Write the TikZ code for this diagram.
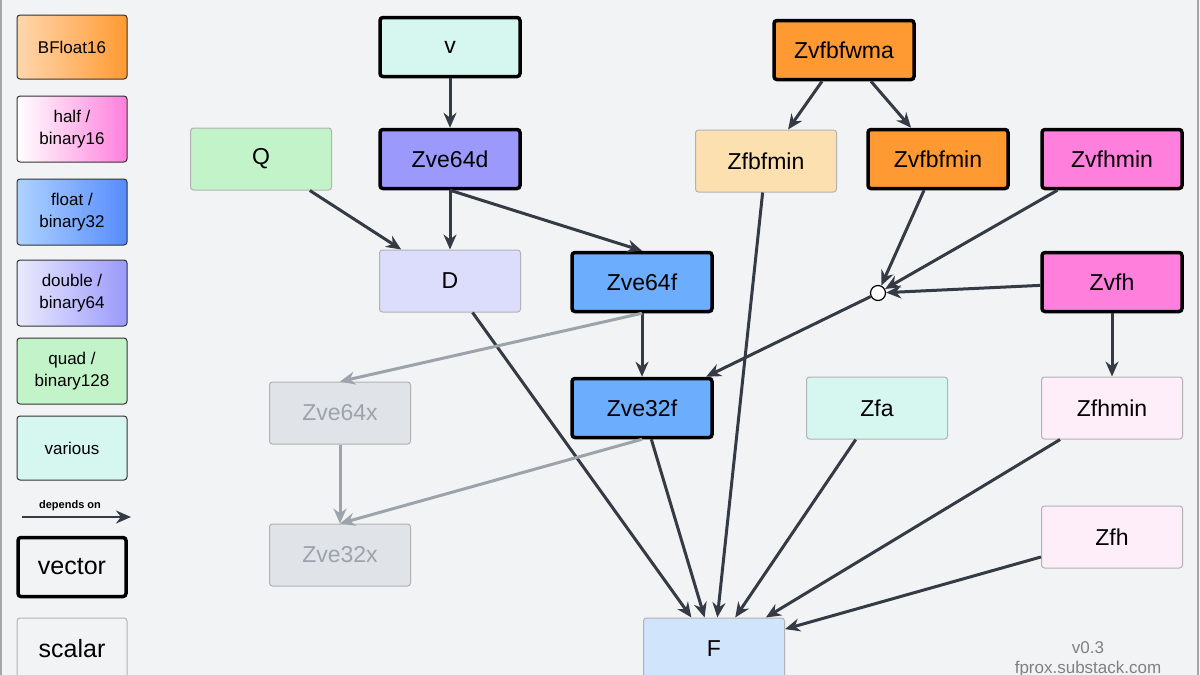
\documentclass[tikz,border=0pt]{standalone}
\usepackage{fontspec}
\setmainfont{Liberation Sans}
\usetikzlibrary{arrows.meta}
\definecolor{bg}{HTML}{F2F3F5}
\definecolor{ink}{HTML}{353B45}
\definecolor{cVar}{HTML}{D5F7F0}
\definecolor{cOr}{HTML}{FF9A33}
\definecolor{cQ}{HTML}{C3F3C8}
\definecolor{cPu}{HTML}{9B99FC}
\definecolor{cBfl}{HTML}{FDE0B0}
\definecolor{cPk}{HTML}{FF7FDC}
\definecolor{cD}{HTML}{DCDCFC}
\definecolor{cBl}{HTML}{6CAEFD}
\definecolor{cGr}{HTML}{E0E3E7}
\definecolor{cHl}{HTML}{FDEEFA}
\definecolor{cF}{HTML}{D0E4FC}
\definecolor{grayl}{HTML}{9CA3AB}
\begin{document}
\begin{tikzpicture}[x=1pt,y=-1pt,
  box/.style={draw=gray!60,line width=1pt,rounded corners=3pt,minimum width=141pt,minimum height=62pt,inner sep=0pt,font=\fontsize{23}{25}\selectfont,text=black},
  vec/.style={box,draw=black,line width=3.5pt,minimum width=140pt,minimum height=59pt},
  leg/.style={draw=black!80,line width=1pt,rounded corners=3pt,minimum width=110pt,minimum height=64pt,inner sep=0pt,align=center,font=\fontsize{17}{22}\selectfont},
  dep/.style={draw=ink,line width=3pt,-{Stealth[length=15pt,width=13pt]}},
  gdep/.style={dep,draw=grayl}]
\useasboundingbox (0,0) rectangle (1200,675);
\fill[bg] (0,0) rectangle (1200,675);
\draw[gray!70,line width=1.5pt] (1,-5) -- (1,675) (1198,-5) -- (1198,675);
% legend
\node[leg,left color=cOr!40,right color=cOr] (lbf) at (72,47) {BFloat16};
\node[leg,left color=white,right color=cPk,minimum height=66pt] (lh) at (72,129) {half /\\binary16};
\node[leg,left color=cBl!55,right color=cBl!80!blue,minimum height=66pt] (lf) at (72,212) {float /\\binary32};
\node[leg,left color=cD!60,right color=cPu,minimum height=66pt] (ld) at (72,293) {double /\\binary64};
\node[leg,fill=cQ,minimum height=66pt] (lq) at (72,371) {quad /\\binary128};
\node[leg,fill=cVar] (lv) at (72,448) {various};
\coordinate (la) at (22,517); \coordinate (lb) at (131,517);
\draw[dep,line width=2.5pt] (la) -- (lb);
\node[font=\bfseries\fontsize{11}{12}\selectfont] (ldep) at (70,506) {depends on};
\node[vec,fill=bg,minimum width=108pt,font=\fontsize{25}{27}\selectfont] (lvec) at (72,567) {vector};
\node[box,fill=bg,minimum width=110pt,font=\fontsize{25}{27}\selectfont] (lsca) at (72,649) {scalar};
% nodes
\node[vec,fill=cVar] (v) at (450,47) {v};
\node[vec,fill=cOr] (wma) at (844,50) {Zvfbfwma};
\node[box,fill=cQ] (Q) at (261,159) {Q};
\node[vec,fill=cPu] (z64d) at (450,159) {Zve64d};
\node[box,fill=cBfl] (zfbf) at (766,161) {Zfbfmin};
\node[vec,fill=cOr] (zvbf) at (938,159) {Zvfbfmin};
\node[vec,fill=cPk] (zvhm) at (1112,159) {Zvfhmin};
\node[box,fill=cD] (D) at (450,281) {D};
\node[vec,fill=cBl] (z64f) at (642,282) {Zve64f};
\node[vec,fill=cPk] (zvfh) at (1112,282) {Zvfh};
\node[circle,draw=black,fill=white,line width=1.2pt,minimum size=15pt,inner sep=0pt] (c) at (878,293) {};
\node[box,fill=cGr,text=grayl] (z64x) at (340,413) {Zve64x};
\node[vec,fill=cBl] (z32f) at (642,408) {Zve32f};
\node[box,fill=cVar] (zfa) at (877,408) {Zfa};
\node[box,fill=cHl] (zfhm) at (1112,408) {Zfhmin};
\node[box,fill=cGr,text=grayl] (z32x) at (340,555) {Zve32x};
\node[box,fill=cHl] (zfh) at (1112,537) {Zfh};
\node[box,fill=cF] (F) at (714,649) {F};
\node[text=gray,font=\fontsize{17}{20}\selectfont,align=center] (ver) at (1088,659) {v0.3\\fprox.substack.com};
% edges
\draw[dep] (v) -- (z64d);
\draw[dep] (wma) -- (zfbf);
\draw[dep] (wma) -- (zvbf);
\draw[dep] (Q) -- (D);
\draw[dep] (z64d) -- (D);
\draw[dep] (z64d.south) -- (z64f.north);
\draw[dep] (zfbf) -- (F);
\draw[dep] (zvbf) -- (c);
\draw[dep] (zvhm) -- (c);
\draw[dep] (zvfh) -- (c);
\draw[dep] (c) -- (z32f);
\draw[dep] (D) -- (F);
\draw[dep] (z64f) -- (z32f);
\draw[gdep] (z64f.south) -- (z64x.north);
\draw[gdep] (z64x) -- (z32x);
\draw[gdep] (z32f.south) -- (z32x.north);
\draw[dep] (z32f) -- (F);
\draw[dep] (zfa) -- (F);
\draw[dep] (zfhm) -- (F);
\draw[dep] (zfh) -- (F);
\draw[dep] (zvfh) -- (zfhm);
\end{tikzpicture}
\end{document}
